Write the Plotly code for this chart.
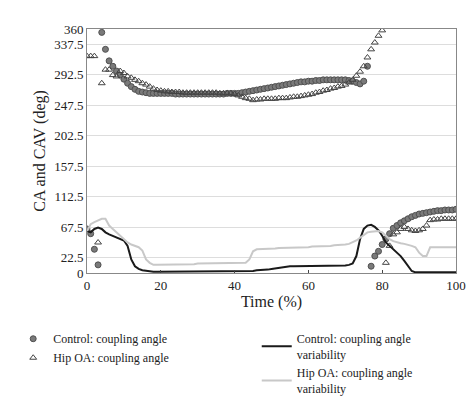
import plotly.graph_objects as go

time = list(range(101))

control_ca = [65, 58, 35, 12, 355, 330, 313, 305, 298, 292,
              286, 280, 275, 271, 268, 267, 266, 265, 265, 265,
              265, 265, 265, 265, 264, 264, 264, 264, 264, 264,
              264, 264, 264, 264, 264, 264, 264, 264, 265, 265,
              265, 265, 266, 267, 268, 269, 270, 271, 272, 273,
              274, 275, 276, 277, 278, 279, 280, 281, 282, 282,
              283, 283, 284, 284, 285, 285, 285, 285, 285, 285,
              285, 284, 283, 281, 279, 283, 305, 10, 25, 32,
              42, 50, 58, 66, 70, 74, 77, 80, 83, 85,
              87, 88, 89, 90, 91, 92, 92, 93, 93, 93, 94]

hipoa_ca = [320, 320, 320, 45, 280, 300, 300, 292, 290, 298,
            295, 290, 288, 285, 283, 280, 278, 275, 272, 270,
            269, 268, 268, 267, 267, 267, 266, 266, 266, 266,
            266, 266, 266, 266, 266, 266, 265, 265, 265, 265,
            264, 262, 260, 258, 257, 255, 256, 256, 257, 257,
            257, 257, 258, 258, 258, 259, 260, 260, 261, 262,
            263, 264, 266, 267, 269, 270, 272, 273, 275, 276,
            278, 281, 285, 291, 297, 305, 318, 330, 340, 350,
            358, 15, 40, 57, 60, 65, 68, 65, 63, 62,
            63, 65, 70, 78, 79, 79, 80, 80, 80, 80, 80]

control_cav = [62, 60, 65, 67, 65, 60, 57, 55, 52, 50,
               48, 40, 20, 10, 6, 4, 3, 2, 2, 2,
               2, 2, 2, 2, 2, 2, 2, 2, 2, 2,
               2, 2, 2, 3, 3, 3, 3, 3, 3, 3,
               3, 3, 3, 3, 3, 3, 4, 4, 5, 5,
               6, 7, 8, 9, 9, 10, 10, 10, 10, 10,
               10, 10, 10, 10, 10, 10, 10, 10, 10, 10,
               11, 12, 14, 25, 50, 65, 70, 71, 68, 63,
               55, 45, 40, 35, 30, 25, 18, 10, 3, 1,
               1, 1, 1, 1, 1, 1, 1, 1, 1, 1, 1]

hipoa_cav = [62, 72, 75, 78, 80, 80, 70, 65, 60, 55,
             50, 45, 42, 40, 38, 33, 20, 15, 12, 12,
             12, 12, 12, 12, 12, 12, 12, 12, 13, 13,
             14, 14, 14, 14, 14, 14, 15, 15, 15, 15,
             15, 15, 15, 15, 20, 32, 35, 35, 36, 36,
             36, 36, 37, 37, 37, 37, 37, 38, 38, 38,
             38, 39, 39, 39, 40, 40, 40, 41, 41, 41,
             42, 43, 45, 48, 52, 56, 60, 61, 62, 62,
             60, 55, 50, 47, 45, 44, 43, 42, 40, 38,
             30, 25, 25, 38, 38, 38, 38, 38, 38, 38, 38]

yticks = [0, 22.5, 67.5, 112.5, 157.5, 202.5, 247.5, 292.5, 337.5, 360]

fig = go.Figure()
fig.add_trace(go.Scatter(x=time, y=control_ca, mode="markers", name="Control: coupling angle",
                         marker=dict(symbol="circle", size=6, color="#7a7a7a",
                                     line=dict(color="#505050", width=1))))
fig.add_trace(go.Scatter(x=time, y=hipoa_ca, mode="markers", name="Hip OA: coupling angle",
                         marker=dict(symbol="triangle-up-open", size=6, color="#444444",
                                     line=dict(width=1))))
fig.add_trace(go.Scatter(x=time, y=control_cav, mode="lines", legend="legend2",
                         name="Control: coupling angle<br>variability",
                         line=dict(color="#1a1a1a", width=2)))
fig.add_trace(go.Scatter(x=time, y=hipoa_cav, mode="lines", legend="legend2",
                         name="Hip OA: coupling angle<br>variability",
                         line=dict(color="#c8c8c8", width=2)))

leg = dict(xanchor="left", yanchor="top", traceorder="normal", tracegroupgap=0,
           font=dict(size=12), bgcolor="rgba(0,0,0,0)", itemwidth=30)

fig.update_layout(
    width=474, height=413,
    margin=dict(l=79, r=26, t=21, b=148, autoexpand=False),
    plot_bgcolor="white", paper_bgcolor="white",
    font=dict(family="Liberation Serif", size=13, color="#222"),
    legend=dict(x=-0.2, y=-0.21, **leg),
    legend2=dict(x=0.46, y=-0.21, **leg),
    xaxis=dict(range=[0, 100], tickvals=[0, 20, 40, 60, 80, 100], showgrid=False,
               showline=True, mirror=True, linecolor="#888", ticks="inside",
               ticklen=3, title=dict(text="Time (%)", standoff=4), zeroline=False,
               automargin=False),
    yaxis=dict(range=[0, 360], tickvals=yticks, ticktext=[f"{v:g}" for v in yticks],
               showgrid=True, gridcolor="#dddddd", showline=True, mirror=True,
               linecolor="#888", ticks="", title=dict(text="CA and CAV (deg)", standoff=4),
               zeroline=False, automargin=False),
)

fig.write_html("out.html")
